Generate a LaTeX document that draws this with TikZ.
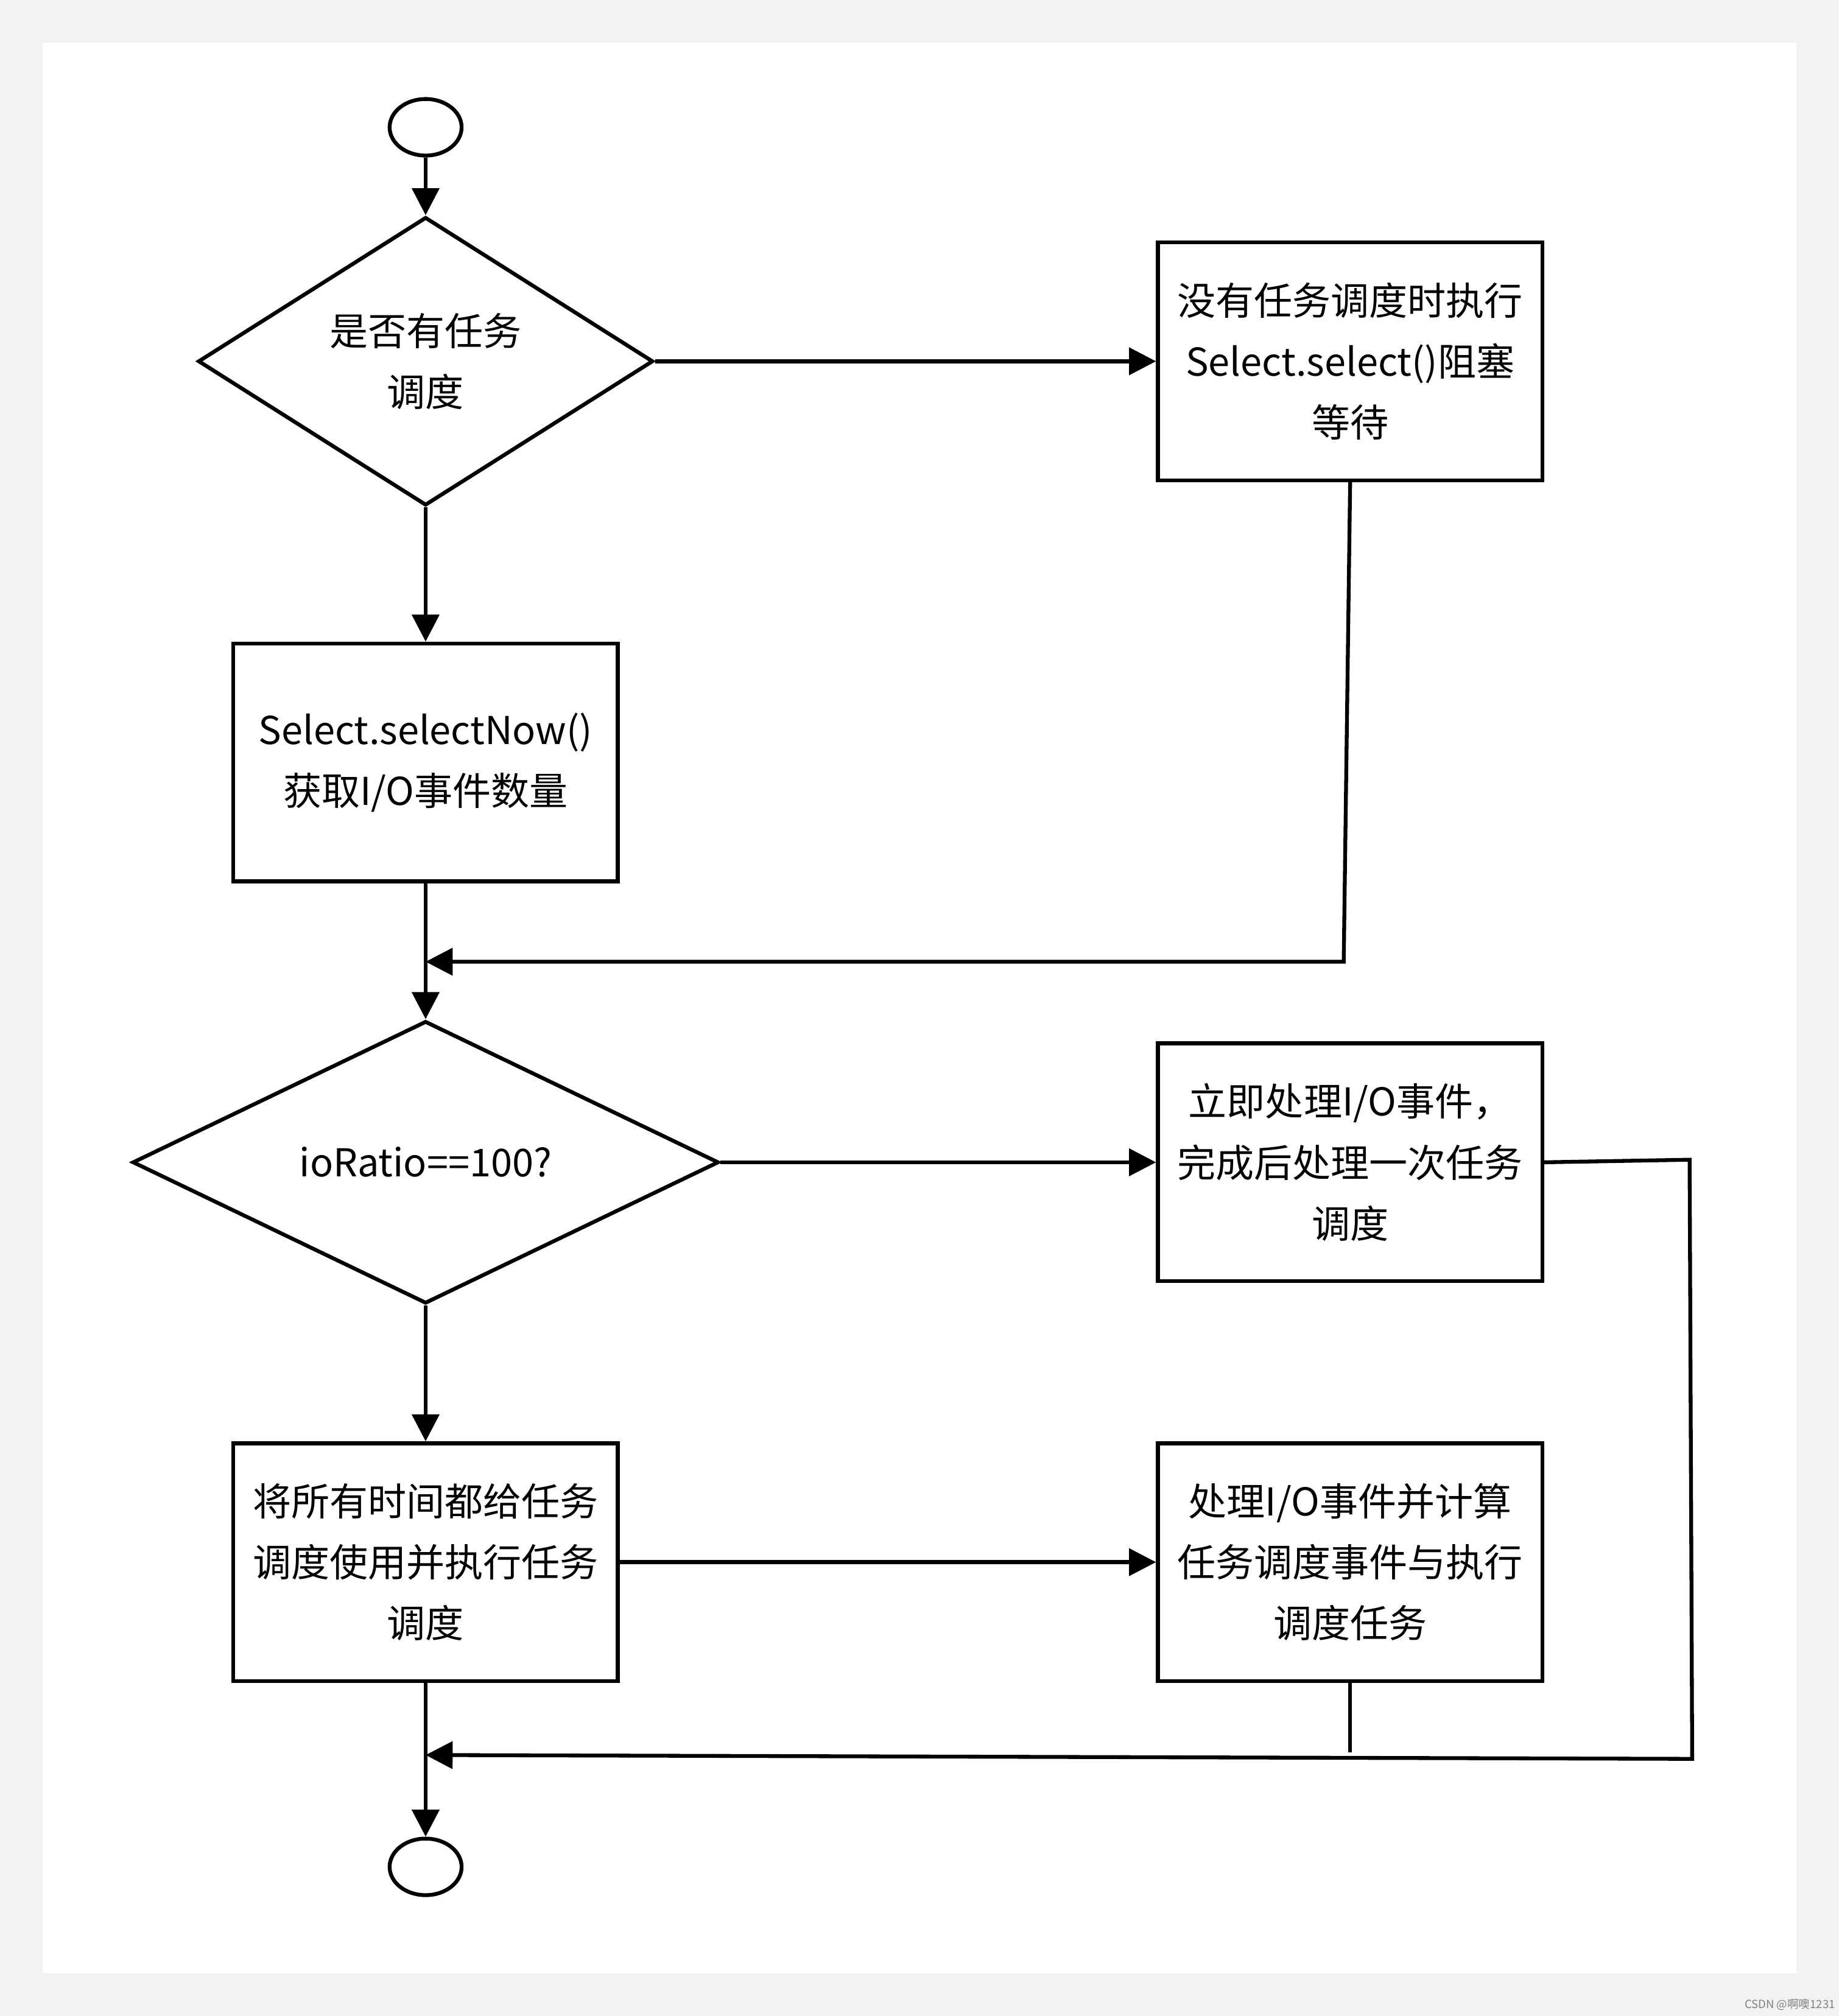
\documentclass[tikz,border=0pt]{standalone}
\usepackage{fontspec}
\setmainfont{Noto Sans CJK SC}
\usetikzlibrary{shapes.geometric,arrows.meta}
\definecolor{bggray}{HTML}{F2F2F2}
\begin{document}
\begin{tikzpicture}[x=0.02cm,y=-0.02cm,
  line width=1.7pt,
  font=\fontsize{17}{27}\selectfont,
  flow/.style={-{Triangle[length=0.42cm,width=0.42cm]}},
  box/.style={draw,rectangle,minimum width=5.98cm,minimum height=3.7cm,align=center,inner sep=2pt},
  dec/.style={draw,diamond,inner sep=0pt,align=center},
  term/.style={draw,ellipse,minimum width=1.12cm,minimum height=0.88cm,inner sep=0pt}]
  \fill[bggray] (0,0) rectangle (1430,1568);
  \fill[white] (33,33) rectangle (1397,1535);
  \useasboundingbox (0,0) rectangle (1430,1568);
  \node[font=\fontsize{5}{6}\selectfont,text=gray] at (1392,1559) {CSDN @啊噢1231};

  \node[term] (start) at (331,99) {};
  \node[dec,minimum width=7.08cm,minimum height=3.88cm] (d1) at (331,281) {是否有任务\\调度};
  \node[box] (b1) at (1050,281) {没有任务调度时执行\\Select.select()阻塞\\等待};
  \node[box] (b2) at (331,593) {Select.selectNow()\\获取I/O事件数量};
  \node[dec,minimum width=9.12cm,minimum height=3.84cm] (d2) at (331,904) {ioRatio==100?};
  \node[box] (b3) at (1050,904) {立即处理I/O事件，\\完成后处理一次任务\\调度};
  \node[box] (b4) at (331,1215) {将所有时间都给任务\\调度使用并执行任务\\调度};
  \node[box] (b5) at (1050,1215) {处理I/O事件并计算\\任务调度事件与执行\\调度任务};
  \node[term] (end) at (331,1452) {};

  \coordinate (m1) at (331,748);
  \coordinate (m2) at (331,1365);

  \draw[flow] (start) -- (d1);
  \draw[flow] (d1) -- (b1);
  \draw[flow] (d1) -- (b2);
  \draw[flow] (b2) -- (d2);
  \draw[flow] (b1.south) -- (1045,748) -- (m1);
  \draw[flow] (d2) -- (b3);
  \draw[flow] (d2) -- (b4);
  \draw[flow] (b4) -- (b5);
  \draw[flow] (b4) -- (end);
  \draw[flow] (b3.east) -- (1314,902) -- (1316,1368) -- (m2);
  \draw (b5.south) -- (1050,1363);
\end{tikzpicture}
\end{document}
